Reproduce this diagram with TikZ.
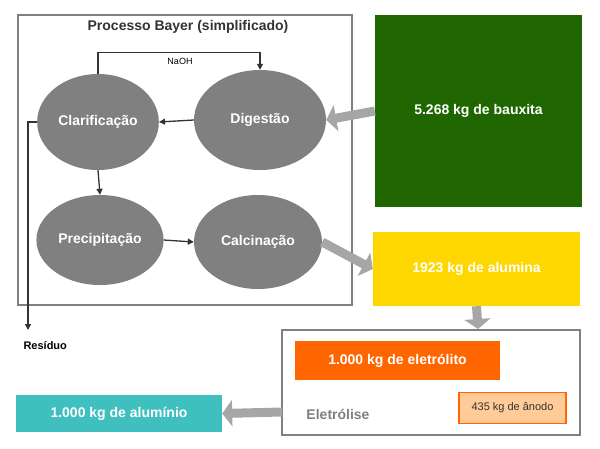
\documentclass[tikz,border=0pt]{standalone}
\usepackage{fontspec}
\setmainfont{Liberation Sans}
\usetikzlibrary{arrows.meta,shapes.geometric}
\definecolor{bgreen}{HTML}{1F6600}
\definecolor{byellow}{HTML}{FFD700}
\definecolor{borange}{HTML}{FF6600}
\definecolor{bpeach}{HTML}{FFCC99}
\definecolor{bteal}{HTML}{40BFBF}
\definecolor{bgray}{HTML}{808080}
\begin{document}
\begin{tikzpicture}[x=1pt,y=-1pt,
  stage/.style={ellipse,fill=bgray,text=white,font=\bfseries\fontsize{14}{16}\selectfont,minimum width=#1},
  stage/.default=120pt,
  frame/.style={draw=bgray,line width=1.5pt},
  card/.style={text=white,font=\bfseries\fontsize{14}{16}\selectfont,align=center},
  thin/.style={line width=1.3pt,draw=black!80,-{Triangle[length=6pt,width=6pt]}},
  fat/.style={line width=9pt,draw=bgray!70,-{Triangle[length=10pt,width=26pt]}}]
\useasboundingbox (0,0) rectangle (600,448);
\draw[frame] (18,15) rectangle (352,305);
\node[font=\bfseries\fontsize{14}{16}\selectfont,text=black!80] (title) at (188,27) {Processo Bayer (simplificado)};
\node[stage, minimum height=96pt] (cla) at (98,122) {Clarificação};
\node[stage=132pt, minimum height=100pt] (dig) at (260,120) {Digestão};
\node[stage, minimum height=90pt] (pre) at (100,240) {Precipitação};
\node[stage=128pt, minimum height=94pt] (cal) at (258,242) {Calcinação};
\draw[thin] (cla.north) -- ++(0,-21) -| (dig.north);
\node[font=\fontsize{9}{10}\selectfont] (naoh) at (180,61) {NaOH};
\draw[thin] (dig.west) -- (cla.east);
\draw[thin] (cla.south) -- (pre.north);
\draw[thin] (pre.east) -- (cal.west);
\coordinate (r0) at (28,122);
\coordinate (r1) at (28,330);
\draw[thin] (cla.west) -- (r0) -- (r1);
\node[font=\bfseries\fontsize{11}{12}\selectfont,anchor=west] (res) at (20,346) {Resíduo};
\node[card,fill=bgreen,minimum width=207pt,minimum height=192pt] (bau) at (478.5,111) {5.268 kg de bauxita};
\node[card,fill=byellow,minimum width=207pt,minimum height=74pt] (alu) at (476.5,269) {1923 kg de alumina};
\draw[frame] (282,330) rectangle (580,435);
\coordinate (ele) at (282,412);
\coordinate (eletop) at (478,329);
\node[card,fill=borange,minimum width=205pt,minimum height=39pt] (eto) at (397.5,360.5) {1.000 kg de eletrólito};
\node[draw=borange,line width=1.2pt,fill=bpeach,font=\fontsize{11}{12}\selectfont,text=black!80,minimum width=107pt,minimum height=31pt] (ano) at (512.5,408) {435 kg de ânodo};
\node[font=\bfseries\fontsize{14}{16}\selectfont,text=bgray] (elt) at (338,414) {Eletrólise};
\node[card,fill=bteal,minimum width=206pt,minimum height=37pt] (alm) at (119,413.5) {1.000 kg de alumínio};
\draw[fat] (bau.west) -- (dig.east);
\draw[fat] (cal.east) -- (alu.west);
\draw[fat] (alu.south) -- (eletop);
\draw[fat] (ele) -- (alm.east);
\end{tikzpicture}
\end{document}
